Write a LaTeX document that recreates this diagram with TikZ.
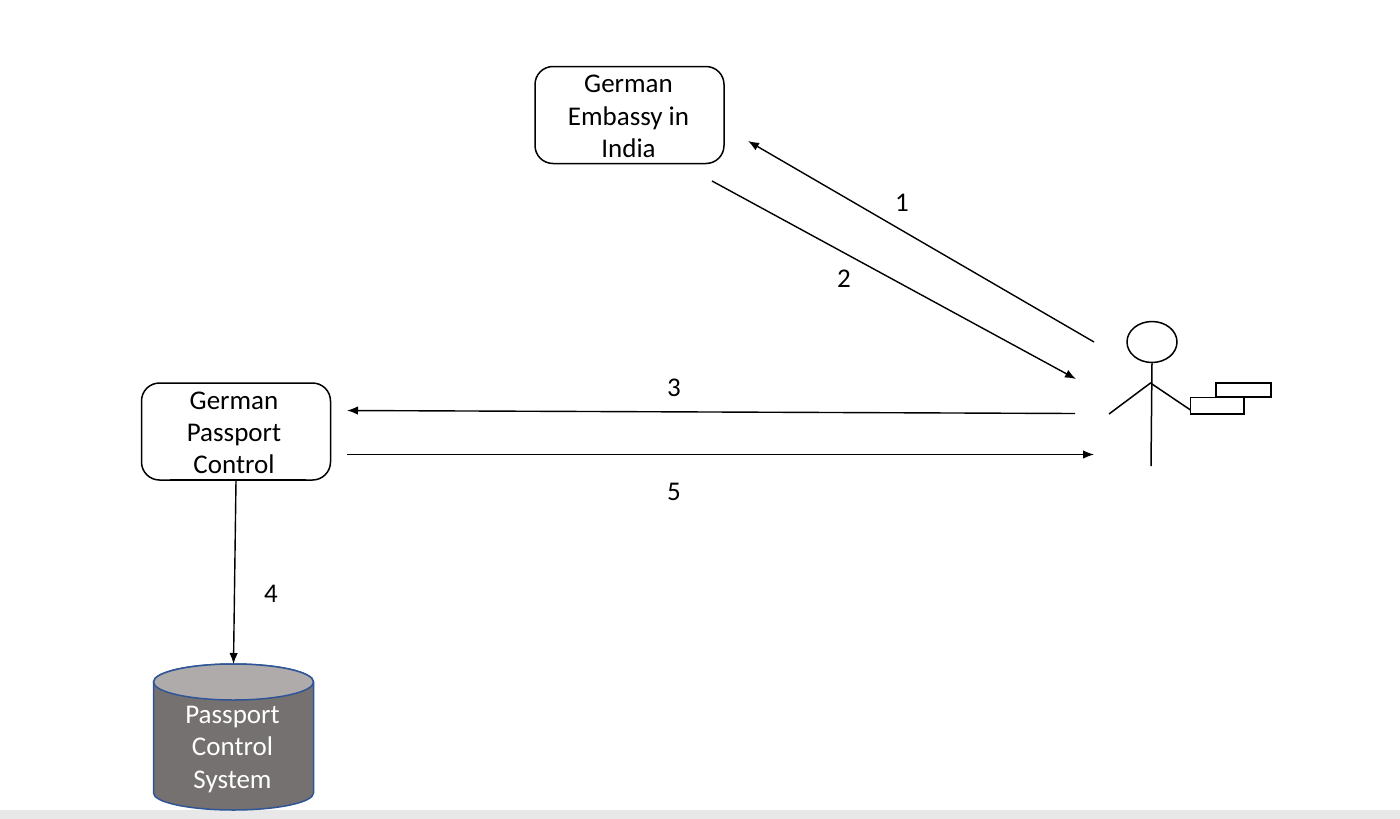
\documentclass[tikz,border=0pt]{standalone}
\usepackage{fontspec}
\setmainfont{Carlito}
\usetikzlibrary{arrows.meta,shapes.geometric}
\definecolor{cylbody}{HTML}{767171}
\definecolor{cyltop}{HTML}{AFABAB}
\definecolor{cyledge}{HTML}{2F5597}
\definecolor{band}{HTML}{E8E8E8}
\tikzset{
  box/.style={draw=black,line width=1.5pt,rounded corners=18pt,fill=white,minimum width=189pt,minimum height=97pt,inner sep=0pt,align=center,font=\fontsize{27}{32.3}\selectfont},
  conn/.style={draw=black,line width=1.4pt,-{Latex[length=11pt,width=8.5pt]}},
  plainline/.style={draw=black,line width=1.5pt},
  lbl/.style={inner sep=0pt,font=\fontsize{27}{30}\selectfont},
  fig/.style={draw=black,line width=1.5pt},
  cyl/.style={draw=cyledge,line width=1.5pt},
  bag/.style={draw=black,line width=1.5pt,fill=white,minimum width=53.5pt,minimum height=16.5pt,inner sep=0pt}
}
\begin{document}
\begin{tikzpicture}[x=1pt,y=-1pt]
\useasboundingbox (0,0) rectangle (1400,819);
\fill[white] (0,0) rectangle (1400,819);
\fill[band] (0,810) rectangle (1400,819);
% boxes
\node[box] (emb) at (629.5,115) {\rule{0pt}{20.5pt}German\rule{2pt}{0pt}\\Embassy in\rule{2pt}{0pt}\\India\rule{2pt}{0pt}};
\node[box] (gpc) at (236,431.5) {\rule{0pt}{20.5pt}German\rule{4pt}{0pt}\\Passport\rule{4pt}{0pt}\\Control\rule{4pt}{0pt}};
\draw[plainline] (170,479.7) -- (306,479.7);
% cylinder
\path[cyl,fill=cylbody] (153.5,682) -- (153.5,793) arc[start angle=180,end angle=0,x radius=80,y radius=17] -- (313.5,682) arc[start angle=0,end angle=-180,x radius=80,y radius=18] -- cycle;
\path[cyl,fill=cyltop] (233.5,682) ellipse[x radius=80,y radius=18];
\node[align=center,text=white,inner sep=0pt,font=\fontsize{27}{32.3}\selectfont] (pcs) at (232.5,749.5) {Passport\\Control\\System};
\coordinate (cyltopc) at (233.5,664);
% stick figure
\node[fig,ellipse,inner sep=0pt,minimum width=50pt,minimum height=41pt] (head) at (1152,342) {};
\coordinate (neck) at (1150.5,383);
\coordinate (foot) at (1151,466);
\coordinate (lhand) at (1109,414);
\coordinate (rhand) at (1190.5,410);
\draw[fig] (head.south) -- (foot);
\draw[fig] (lhand) -- (neck) -- (rhand);
\node[bag,minimum width=55pt,minimum height=14pt] (bag2) at (1243.5,390) {};
\node[bag] (bag1) at (1217.2,405.5) {};
% connector ends
\coordinate (a1s) at (1094,342);
\coordinate (a1e) at (748,141);
\coordinate (a2s) at (712,181);
\coordinate (a2e) at (1076,379);
\coordinate (a3s) at (1075,413.5);
\coordinate (a3e) at (347,410.5);
\coordinate (a5s) at (347,454.5);
\coordinate (a5e) at (1094,454.5);
\draw[conn] (a1s) -- (a1e);
\draw[conn] (a2s) -- (a2e);
\draw[conn] (a3s) -- (a3e);
\draw[conn] (a5s) -- (a5e);
\draw[conn] (gpc.south) -- (cyltopc);
% labels
\node[lbl] (l1) at (902,202.5) {1};
\node[lbl] (l2) at (844,278.5) {2};
\node[lbl] (l3) at (674,388) {3};
\node[lbl] (l4) at (271,593.5) {4};
\node[lbl] (l5) at (674,491.5) {5};
\end{tikzpicture}
\end{document}
